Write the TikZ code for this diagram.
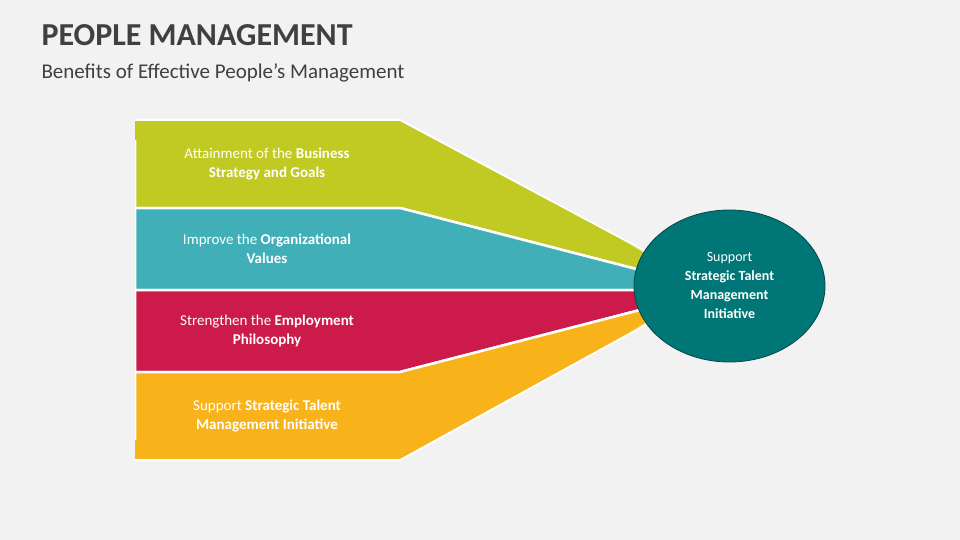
\documentclass[tikz,border=0pt]{standalone}
\usepackage{fontspec}
\setmainfont{Carlito}
\usetikzlibrary{shapes.geometric}
\definecolor{bg}{HTML}{F2F2F2}
\definecolor{cgreen}{HTML}{C1CA22}
\definecolor{cteal}{HTML}{41AFB8}
\definecolor{cred}{HTML}{CC1A4A}
\definecolor{cyellow}{HTML}{F9B31A}
\definecolor{cdark}{HTML}{007676}
\definecolor{ctitle}{HTML}{404040}
\begin{document}
\begin{tikzpicture}[x=1pt,y=-1pt,
  band/.style={draw=white,line width=2.5pt,line join=round},
  lbl/.style={text=white,font=\fontsize{15}{19}\selectfont,align=center}]
\fill[bg] (0,0) rectangle (960,540);
\useasboundingbox (0,0) rectangle (960,540);
\node[anchor=west,text=ctitle,font=\fontsize{32}{36}\selectfont\bfseries] (title) at (38,35) {PEOPLE MANAGEMENT};
\node[anchor=west,text=ctitle,font=\fontsize{21}{24}\selectfont] (sub) at (38,73) {Benefits of Effective People's Management};
\filldraw[band,fill=cgreen] (135,120) -- (400,120) -- (646,252) -- (640,270) -- (400,208) -- (135,208) -- cycle;
\filldraw[band,fill=cteal] (135,208) -- (400,208) -- (640,270) -- (640,290) -- (135,290) -- cycle;
\filldraw[band,fill=cred] (135,290) -- (640,290) -- (640,310) -- (400,372) -- (135,372) -- cycle;
\filldraw[band,fill=cyellow] (135,372) -- (400,372) -- (640,310) -- (648,323) -- (400,460) -- (135,460) -- cycle;
\fill[cgreen] (135,121.2) -- (400,121.2) -- (643,251) -- (400,140) -- (135,140) -- cycle;
\fill[cyellow] (135,458.8) -- (400,458.8) -- (645,324) -- (400,440) -- (135,440) -- cycle;
\fill[bg] (125,118) rectangle (135,462);
\node[ellipse,minimum width=191pt,minimum height=152pt,fill=cdark,draw=cdark!60!black,line width=0.8pt] (hub) at (729.5,286) {};
\node[lbl,font=\fontsize{14}{19}\selectfont] (hubt) at (729.5,286) {Support\\\textbf{Strategic Talent}\\\textbf{Management}\\\textbf{Initiative}};
\node[lbl] (t1) at (267,164) {Attainment of the \textbf{Business}\\\textbf{Strategy and Goals}};
\node[lbl] (t2) at (267,249) {Improve the \textbf{Organizational}\\\textbf{Values}};
\node[lbl] (t3) at (267,331) {Strengthen the \textbf{Employment}\\\textbf{Philosophy}};
\node[lbl] (t4) at (267,416) {Support \textbf{Strategic Talent}\\\textbf{Management Initiative}};
\end{tikzpicture}
\end{document}
